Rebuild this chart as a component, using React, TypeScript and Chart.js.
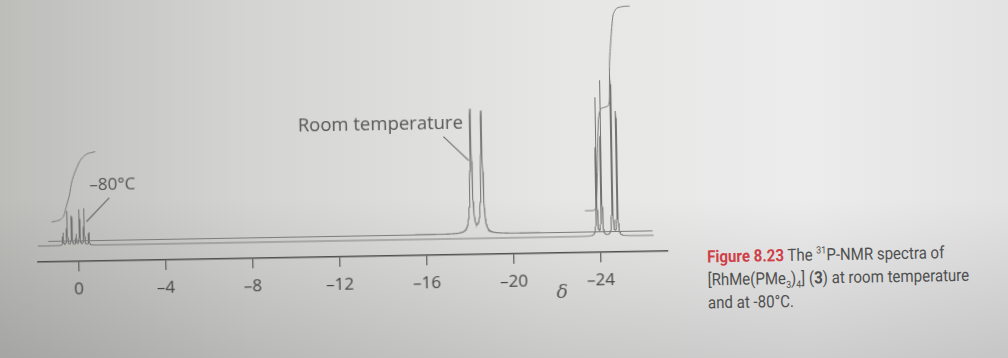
import React, { useEffect, useRef } from "react";
import { Chart, registerables } from "chart.js";

Chart.register(...registerables);

// ---- axis (chemical shift, ppm) ----
const shiftTicks = [0, -4, -8, -12, -16, -20, -24];
const shiftTickLabels = ["0", "–4", "–8", "–12", "–16", "–20", "–24"];
const axisMax = 1.85;
const axisMin = -27.1;

// ---- room temperature spectrum (broad doublet) ----
const rtPeakShifts = [-18.1, -18.6];
const rtPeakHeights = [124, 122];
const rtHalfWidth = 0.05;
const rtBaseline = 20.5;
const rtExtent = [1.37, -26.4];

// ---- -80 °C spectrum (two multiplets) ----
const lowPeakShifts = [0.69, 0.5, 0.29, 0.09, -0.07, -0.28, -0.5, -23.85, -24.08, -24.57, -24.8];
const lowPeakHeights = [12.5, 34, 29.5, 10.5, 35.5, 36.5, 12.5, 138, 155, 160, 124];
const lowHalfWidth = 0.016;
const lowBaseline = 16;
const lowExtent = [1.9, -26.45];

// ---- integral traces of the -80 °C spectrum ----
const integralAShifts = [1.2, 0.83, 0.64, 0.52, 0.37, 0.22, -0.09, -0.24, -0.47, -0.86];
const integralAValues = [39.8, 41.7, 45.6, 54.6, 65.5, 81.5, 98, 103, 107.2, 109.4];
const integralBShifts = [-23.31, -23.77, -23.86, -24.0, -24.07, -24.15, -24.46, -24.53, -24.56, -24.64, -24.76, -24.92, -25.2, -25.53];
const integralBValues = [41.8, 42.4, 52.3, 132.3, 140.6, 143.9, 146.1, 152.1, 188.8, 212, 237, 243.6, 245.3, 245.7];

function spectrum(extent: number[], baseline: number, shifts: number[], heights: number[], hw: number) {
  const [hi, lo] = extent;
  const xs: number[] = [];
  const n = Math.round((hi - lo) / 0.02);
  for (let i = 0; i <= n; i++) xs.push(hi - (i * (hi - lo)) / n);
  shifts.forEach((p) => {
    for (let k = -80; k <= 80; k++) {
      const x = p + (k * hw) / 4;
      if (x <= hi && x >= lo) xs.push(x);
    }
  });
  xs.sort((a, b) => b - a);
  return xs.map((x) => ({
    x,
    y: baseline + shifts.reduce((s, p, i) => s + (heights[i] * hw * hw) / (hw * hw + (x - p) * (x - p)), 0),
  }));
}

const annotationPlugin = {
  id: "nmrNotes",
  afterDatasetsDraw(chart: any) {
    const { ctx, scales } = chart;
    const X = (v: number) => scales.x.getPixelForValue(v);
    const Y = (v: number) => scales.y.getPixelForValue(v);
    ctx.save();
    ctx.strokeStyle = "#6a6a6a";
    ctx.lineWidth = 1.1;
    const leaders = [
      [[-16.87, 118.3], [-18.02, 93.9]],
      [[-0.4, 39.5], [-1.47, 63.2]],
    ];
    leaders.forEach((l) => {
      ctx.beginPath();
      ctx.moveTo(X(l[0][0]), Y(l[0][1]));
      ctx.lineTo(X(l[1][0]), Y(l[1][1]));
      ctx.stroke();
    });
    ctx.fillStyle = "#555555";
    ctx.textAlign = "center";
    ctx.textBaseline = "middle";
    ctx.font = '18.5px "Open Sans", sans-serif';
    ctx.fillText("Room temperature", X(-13.98), Y(130.8));
    ctx.font = '17px "Open Sans", sans-serif';
    ctx.fillText("–80°C", X(-1.62), Y(75.8));
    ctx.font = 'italic 19px "DejaVu Serif", serif';
    ctx.fillStyle = "#5a5a5a";
    ctx.fillText("δ", X(-22.2), chart.chartArea.bottom + 40);
    ctx.restore();
  },
};

export default function App() {
  const ref = useRef<HTMLCanvasElement>(null);
  useEffect(() => {
    const chart = new Chart(ref.current as HTMLCanvasElement, {
      type: "scatter",
      data: {
        datasets: [
          {
            data: spectrum(rtExtent, rtBaseline, rtPeakShifts, rtPeakHeights, rtHalfWidth),
            showLine: true,
            borderColor: "#7c7c7c",
            borderWidth: 1.1,
            pointRadius: 0,
          },
          {
            data: spectrum(lowExtent, lowBaseline, lowPeakShifts, lowPeakHeights, lowHalfWidth),
            showLine: true,
            borderColor: "#727272",
            borderWidth: 1,
            pointRadius: 0,
          },
          {
            data: integralAShifts.map((x, i) => ({ x, y: integralAValues[i] })),
            showLine: true,
            borderColor: "#7a7a7a",
            borderWidth: 1,
            pointRadius: 0,
            tension: 0.3,
          },
          {
            data: integralBShifts.map((x, i) => ({ x, y: integralBValues[i] })),
            showLine: true,
            borderColor: "#7a7a7a",
            borderWidth: 1,
            pointRadius: 0,
            tension: 0.2,
          },
        ] as any,
      },
      options: {
        animation: false,
        responsive: false,
        devicePixelRatio: 1,
        layout: { padding: { left: 38, right: 12, top: 0, bottom: 0 } },
        plugins: { legend: { display: false }, tooltip: { enabled: false } },
        scales: {
          x: {
            type: "linear",
            reverse: true,
            min: axisMin,
            max: axisMax,
            afterBuildTicks: (s: any) => {
              s.ticks = shiftTicks.map((v) => ({ value: v }));
            },
            afterFit: (s: any) => {
              s.height = 101;
            },
            ticks: {
              autoSkip: false,
              maxRotation: 0,
              padding: 8,
              color: "#474747",
              font: { family: '"Open Sans", sans-serif', size: 17 },
              callback: (v: any) => {
                const i = shiftTicks.indexOf(Number(v));
                return i >= 0 ? shiftTickLabels[i] : "";
              },
            },
            grid: { drawOnChartArea: false, drawTicks: true, tickLength: 10, color: "#5c5c5c", lineWidth: 1.2 },
            border: { display: true, color: "#505050", width: 1.6 },
          },
          y: { display: false, min: 0, max: 257 },
        },
      },
      plugins: [annotationPlugin],
    } as any);
    return () => chart.destroy();
  }, []);

  const sub = { fontSize: 10, position: "relative" as const, top: 4 };
  return (
    <div
      style={{
        position: "fixed",
        left: 0,
        top: 0,
        width: 1008,
        height: 358,
        overflow: "hidden",
        background:
          "linear-gradient(to bottom, rgba(0,0,0,0) 55%, rgba(0,0,0,0.13) 100%), linear-gradient(to right, #bdbdba 0%, #d4d4d2 25%, #e6e6e5 55%, #ececec 80%, #e3e3e3 100%)",
      }}
    >
      <div
        style={{
          position: "absolute",
          left: 0,
          top: 0,
          width: 1008,
          height: 358,
          transform: "rotate(-1deg)",
          transformOrigin: "330px 250px",
        }}
      >
        <canvas ref={ref} width={680} height={358} style={{ position: "absolute", left: 0, top: 0, width: 680, height: 358 }} />
        <div
          style={{
            position: "absolute",
            left: 707,
            top: 253,
            fontFamily: "Roboto, sans-serif",
            fontSize: 17,
            lineHeight: "21px",
            color: "#505050",
            whiteSpace: "nowrap",
            transform: "scaleX(0.885)",
            transformOrigin: "0 0",
          }}
        >
          <div>
            <span style={{ color: "#cf3f48", fontWeight: 700 }}>Figure 8.23</span> The{" "}
            <span style={{ fontSize: 10, position: "relative", top: -7 }}>31</span>P-NMR spectra of
          </div>
          <div>
            [RhMe(PMe<span style={sub}>3</span>)<span style={sub}>4</span>] (<b>3</b>) at room temperature
          </div>
          <div>and at -80°C.</div>
        </div>
      </div>
    </div>
  );
}
